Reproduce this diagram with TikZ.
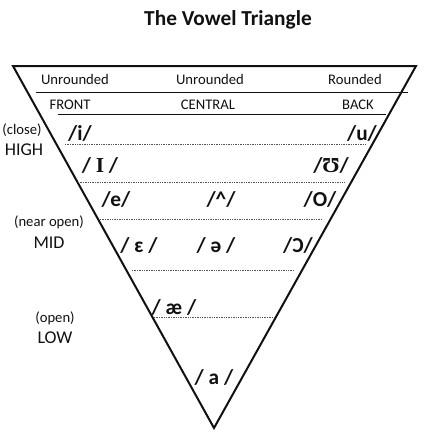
\documentclass[tikz,border=0pt]{standalone}
\usepackage{fontspec}
\setmainfont{Carlito}
\newfontfamily\ipaserif{Liberation Serif}
\usetikzlibrary{calc}
\definecolor{vtInk}{HTML}{111111}
\definecolor{vtDash}{HTML}{555555}
\tikzset{
  frame/.style    ={draw=vtInk,line width=1.5pt,line join=miter},
  rulesolid/.style={draw=vtInk,line width=0.75pt},
  ruledash/.style ={draw=vtDash,line width=0.5pt,dash pattern=on 1.1pt off 0.7pt},
  ttl/.style      ={font=\fontsize{16}{18}\selectfont\bfseries,text=vtInk},
  colhead/.style  ={font=\fontsize{11}{12}\selectfont,text=vtInk},
  rowtag/.style   ={font=\fontsize{11}{12}\selectfont,text=vtInk},
  rowname/.style  ={font=\fontsize{13.5}{15}\selectfont,text=vtInk},
  vwl/.style      ={font=\fontsize{16}{18}\selectfont\bfseries,text=vtInk,inner sep=0pt},
}

\begin{document}
\begin{tikzpicture}[x=0.75pt,y=-0.75pt]
\useasboundingbox (0,0) rectangle (427,436);
%% outline
\coordinate (tl) at (13,66);
\coordinate (tr) at (416,66);
\coordinate (apex) at (214,428);
\draw[frame] (tl) -- (tr) -- (apex) -- cycle;

\node[ttl] (title) at (228,20) {The Vowel Triangle};

%% column heads
\node[colhead] (rndF) at (75,79)  {Unrounded};
\node[colhead] (rndC) at (210,79) {Unrounded};
\node[colhead] (rndB) at (355,79) {Rounded};
\draw[rulesolid] (36,92) -- (408,92);
\node[colhead] (colF) at (70,105)  {FRONT};
\node[colhead] (colC) at (208,105) {CENTRAL};
\node[colhead] (colB) at (358,105) {BACK};
\draw[rulesolid] (58,114) -- (386,114);

%% height divisions
\foreach \y/\xa/\xb in {144/65/367,182/78/345,219/100/323,270/132/295,317/154/275}
  \draw[ruledash] (\xa,\y) -- (\xb,\y);

%% row names
\node[rowtag]  (tagHigh) at (22,130) {(close)};
\node[rowname] (nmHigh)  at (24,150) {HIGH};
\node[rowtag]  (tagMid)  at (49,222) {(near open)};
\node[rowname] (nmMid)   at (49,243) {MID};
\node[rowtag]  (tagLow)  at (55,318) {(open)};
\node[rowname] (nmLow)   at (55,338) {LOW};

%% vowels
\node[vwl] (vI)   at (80,133)  {/i/};
\node[vwl] (vU)   at (362,133) {/u/};
\node[vwl] (vIs)  at (100,165) {/ {\ipaserif I} /};
\node[vwl] (vUs)  at (331,165) {/{\ipaserif Ʊ}/};
\node[vwl] (vE)   at (116,199) {/e/};
\node[vwl] (vV)   at (221,199) {/\^{}/};
\node[vwl] (vO)   at (320,199) {/O/};
\node[vwl] (vEo)  at (139,245) {/ ɛ /};
\node[vwl] (vSch) at (216,245) {/ ə /};
\node[vwl] (vOo)  at (298,245) {/Ɔ/};
\node[vwl] (vAe)  at (174,307) {/ æ /};
\node[vwl] (vA)   at (214,377) {/ a /};
\end{tikzpicture}
\end{document}
